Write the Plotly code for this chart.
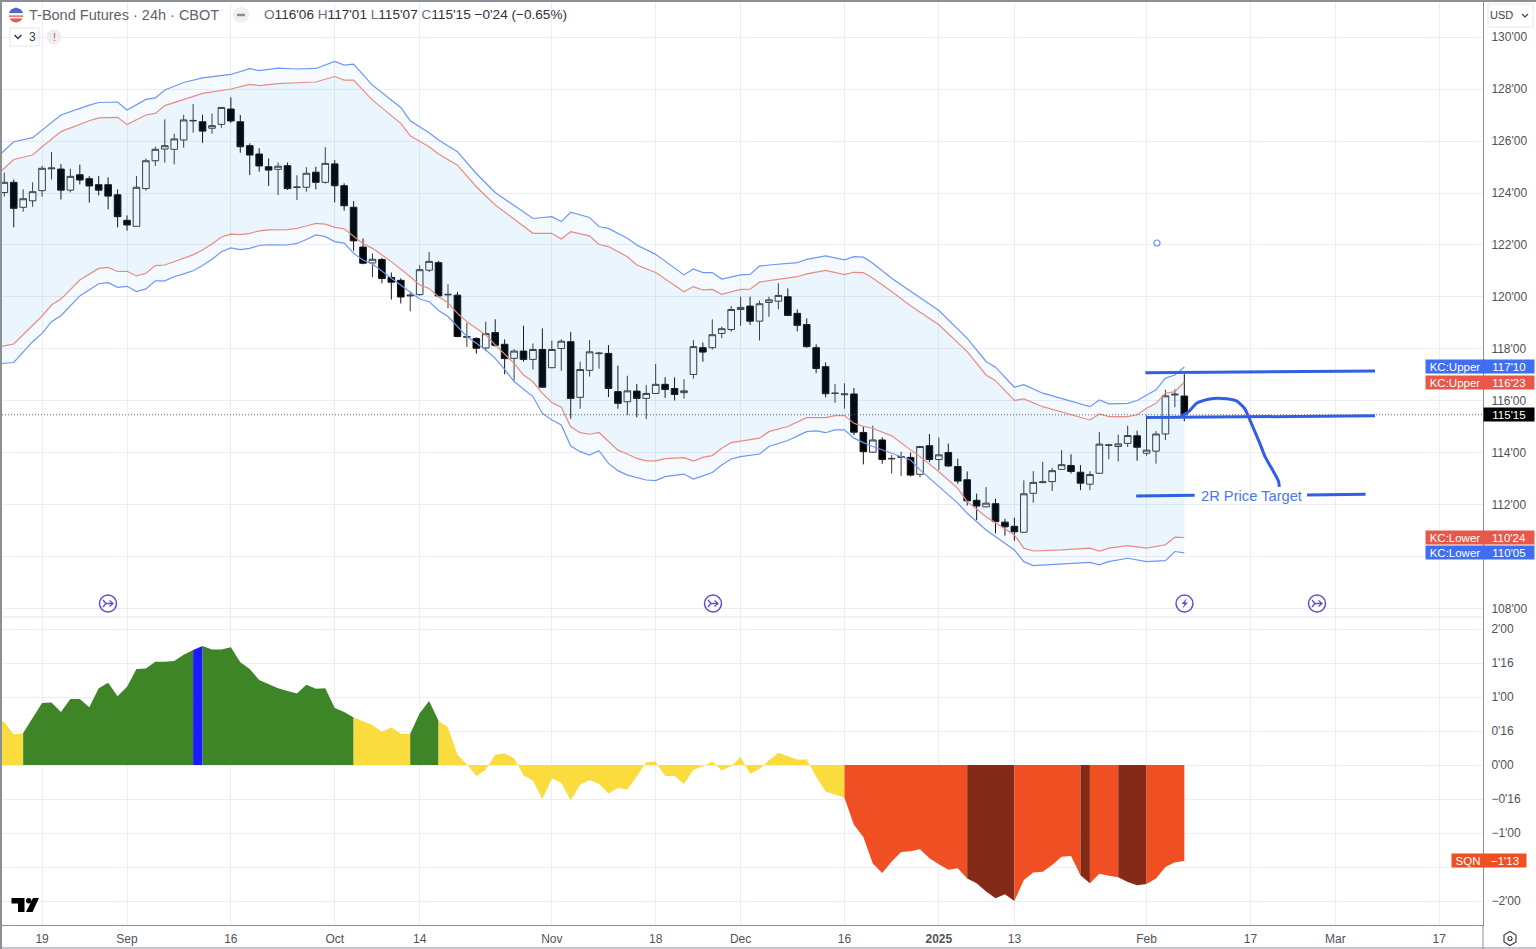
import plotly.graph_objects as go

# ---------- price data (one entry per daily bar) ----------
open_ = [124.02,124.41,123.45,123.70,124.09,124.93,124.92,124.11,124.70,124.55,
124.32,124.32,123.93,122.95,122.72,124.17,125.24,125.69,125.68,126.04,
126.77,126.74,126.49,126.64,127.23,126.74,125.82,125.50,125.01,124.91,
125.05,124.21,124.22,124.80,124.41,125.12,124.28,123.45,121.92,121.31,
121.44,120.75,120.64,120.04,120.09,121.03,121.32,120.08,120.07,118.45,
118.40,118.04,118.63,118.18,117.64,117.92,117.60,117.98,117.28,118.02,
118.28,116.14,117.18,117.82,117.83,116.36,115.97,116.38,116.10,116.29,
116.64,116.48,116.32,117.02,118.05,118.05,118.60,118.75,119.52,119.65,
119.07,119.79,119.84,120.01,119.37,118.94,118.05,117.32,116.29,116.24,
116.27,114.79,114.03,114.50,113.77,113.83,113.83,113.18,114.28,113.75,
114.02,113.48,112.97,112.18,111.93,112.05,111.34,111.18,110.95,112.45,
112.86,112.90,113.37,113.52,113.26,112.80,113.22,114.29,114.25,114.37,
114.66,113.99,114.07,114.73,116.23,116.19]
high = [124.78,124.52,124.14,124.41,125.04,125.58,125.11,124.93,125.09,124.65,
124.65,124.60,124.14,123.14,124.65,125.33,125.78,126.83,126.28,127.01,
127.42,127.01,127.06,127.29,127.68,127.00,125.91,125.72,125.33,125.18,
125.17,124.68,124.99,125.01,125.76,125.27,124.37,123.69,122.25,121.68,
121.51,120.94,120.72,120.18,121.22,121.73,121.39,120.49,120.19,119.00,
118.45,119.05,119.14,118.37,117.99,118.89,118.21,118.79,118.32,118.37,
118.66,117.51,118.34,117.89,118.15,117.36,116.97,116.65,116.61,117.42,
116.91,116.91,116.84,118.34,118.25,119.14,118.86,119.65,120.01,120.01,
119.86,120.01,120.53,120.33,119.52,119.18,118.18,117.48,116.65,116.68,
116.50,115.01,115.05,114.60,113.92,114.05,114.02,114.27,114.73,114.60,
114.36,113.78,113.29,112.44,112.69,112.24,111.47,111.51,112.95,113.30,
113.66,113.43,114.11,113.95,113.53,113.30,114.81,114.35,114.71,115.05,
114.86,115.45,114.84,116.43,116.45,117.03]
low = [123.86,122.68,123.28,123.47,123.86,124.52,123.75,124.02,124.33,123.63,
123.91,123.37,122.68,122.55,122.72,124.09,125.04,125.17,125.10,125.74,
126.32,125.93,126.28,126.51,126.70,125.55,124.69,124.82,124.27,123.92,
124.12,123.73,124.05,124.14,124.36,123.64,123.32,121.78,121.26,120.76,
120.53,119.90,119.75,119.45,120.05,120.96,119.99,119.57,118.45,118.08,
117.82,117.92,118.09,117.03,116.78,117.51,117.21,116.52,117.27,117.16,
115.32,115.70,116.94,117.24,116.15,115.70,115.46,115.37,115.30,116.27,
116.12,116.02,116.09,116.86,117.51,117.98,118.42,118.66,118.89,118.93,
118.33,119.24,119.53,119.27,118.68,118.05,117.07,116.14,115.93,115.70,
114.69,113.56,114.01,113.59,113.21,113.11,113.10,113.07,113.65,113.34,
113.47,112.82,111.98,111.42,111.91,110.91,110.82,110.62,110.94,112.09,
112.84,112.54,113.35,113.21,112.57,112.57,113.21,113.76,113.67,114.23,
113.70,113.89,113.59,114.50,115.76,115.22]
close = [124.41,123.41,123.78,124.05,124.95,124.96,124.11,124.64,124.50,124.27,
124.11,123.88,123.09,122.77,124.22,125.24,125.68,125.82,126.08,126.81,
126.79,126.38,126.59,127.29,126.77,125.78,125.46,125.04,124.88,125.03,
124.17,124.23,124.76,124.41,125.14,124.28,123.51,122.16,121.30,121.45,
120.71,120.57,120.00,120.07,121.05,121.37,120.04,120.10,118.48,118.48,
118.03,118.59,118.14,117.63,117.92,117.60,117.98,116.53,117.98,118.30,
116.10,117.21,117.89,117.84,116.48,115.91,116.39,116.10,116.29,116.64,
116.44,116.25,116.39,118.09,117.88,118.55,118.78,119.52,119.60,119.07,
119.74,119.89,120.06,119.29,118.91,118.09,117.25,116.28,116.30,116.27,
114.80,114.05,114.50,113.75,113.79,113.86,113.15,114.25,113.75,113.93,
113.50,112.92,112.16,111.96,112.07,111.36,111.16,110.97,112.43,112.87,
112.89,113.32,113.55,113.29,112.84,113.17,114.34,114.31,114.35,114.67,
114.22,114.11,114.73,116.20,116.26,115.47]
bars = list(range(len(close)))

# ---------- Keltner channel readings (bar number, price) ----------
upper_bars = [-1,0,1,3,4,6,9,10,12,13,15,16,17,19,21,24,26,27,29,31,33,35,36,37,39,42,43,45,46,48,50,52,
              56,58,59,60,62,63,64,66,67,69,72,73,74,75,76,78,79,80,81,84,85,87,89,90,91,92,94,96,99,
              102,104,105,107,108,110,115,116,117,119,120,121,122,123,124,125]
kc_upper_blue = [125.30,125.63,125.97,126.13,126.42,127.00,127.38,127.48,127.50,127.19,127.60,127.66,127.96,128.25,128.43,128.56,
                 128.78,128.71,128.80,128.77,128.79,129.06,128.92,128.96,128.15,127.29,126.78,126.32,126.04,125.59,124.75,124.02,
                 123.02,123.09,122.90,123.26,123.06,122.70,122.64,122.26,122.00,121.64,120.85,121.08,120.94,120.94,120.69,120.85,
                 120.87,121.19,121.23,121.32,121.45,121.58,121.43,121.55,121.53,121.30,120.72,120.21,119.48,118.41,117.52,117.30,
                 116.53,116.63,116.30,115.78,116.04,115.89,115.91,116.02,116.23,116.43,116.88,117.00,117.31]
kc_upper_red = [124.65,124.95,125.29,125.46,125.78,126.36,126.78,126.89,126.91,126.63,127.00,127.06,127.36,127.61,127.83,128.00,
                128.18,128.13,128.21,128.24,128.27,128.48,128.34,128.34,127.57,126.68,126.20,125.78,125.50,125.07,124.24,123.54,
                122.45,122.45,122.23,122.51,122.35,122.02,121.94,121.55,121.23,120.94,120.20,120.40,120.27,120.29,120.10,120.29,
                120.30,120.57,120.63,120.78,120.89,121.02,120.86,120.95,120.94,120.72,120.21,119.66,118.93,117.90,117.00,116.78,
                116.02,116.08,115.78,115.27,115.50,115.40,115.40,115.47,115.72,115.91,116.30,116.36,116.72]
lower_red_bars = [-1,0,1,3,4,5,6,8,9,10,11,12,13,14,15,16,17,18,19,20,21,22,23,24,25,26,27,28,30,31,32,33,34,35,36,37,38,39,41,43,44,45,46,47,48,49,51,52,53,
                  54,55,56,57,58,59,60,61,62,63,64,65,66,67,68,69,70,72,73,74,75,76,77,78,80,81,83,85,87,88,89,90,91,92,94,96,97,99,101,102,104,107,108,109,112,
                  115,116,117,119,121,123,124,125]
kc_lower_red = [118.09,118.12,118.19,118.92,119.27,119.69,119.92,120.65,120.89,121.10,121.14,120.98,120.99,120.81,120.91,121.21,121.23,121.37,121.49,121.62,121.81,
                122.04,122.31,122.42,122.40,122.45,122.54,122.58,122.59,122.64,122.73,122.83,122.80,122.68,122.62,122.32,122.05,121.87,121.36,120.78,120.46,120.33,120.01,119.78,119.37,119.05,118.54,118.16,117.81,
                117.45,117.00,116.74,116.29,115.94,115.76,115.01,114.78,114.72,114.79,114.44,114.11,113.96,113.79,113.70,113.70,113.78,113.82,113.69,113.83,113.90,114.18,114.40,114.45,114.57,114.82,115.02,115.36,115.36,115.44,115.44,115.14,115.02,114.95,114.66,114.12,113.86,113.28,112.64,112.13,111.55,110.85,110.34,110.23,110.27,
                110.34,110.23,110.34,110.44,110.34,110.47,110.76,110.75]
lower_blue_bars = [-1,0,1,3,4,5,6,8,9,10,11,12,13,14,15,16,17,18,19,20,21,22,23,24,25,26,27,28,30,31,32,33,34,35,36,37,38,39,41,43,44,45,46,47,48,49,51,52,53,
                   54,56,57,58,59,60,61,62,63,64,65,66,68,69,70,72,73,74,75,76,77,78,80,81,83,85,86,87,88,89,90,91,92,94,96,97,99,101,102,104,107,108,109,112,
                   115,116,117,119,121,123,124,125]
kc_lower_blue = [117.42,117.44,117.48,118.28,118.60,119.05,119.28,120.04,120.27,120.51,120.55,120.37,120.41,120.21,120.31,120.62,120.62,120.78,120.89,121.01,121.21,
                 121.45,121.74,121.89,121.82,121.87,121.98,122.01,122.00,122.06,122.21,122.39,122.32,122.13,122.07,121.68,121.42,121.27,120.72,120.21,119.92,119.82,119.48,119.25,118.86,118.48,117.96,117.64,117.22,
                 116.75,116.17,115.52,115.27,115.08,114.27,114.05,113.92,114.09,113.60,113.32,113.15,112.96,112.94,113.09,113.19,113.00,113.12,113.25,113.54,113.77,113.86,113.96,114.25,114.48,114.82,114.85,114.78,114.89,114.89,114.57,114.40,114.25,113.99,113.73,113.35,112.71,112.07,111.68,111.04,110.27,109.82,109.67,109.73,
                 109.79,109.70,109.82,109.95,109.82,109.86,110.21,110.16]

# ---------- squeeze-momentum pane ----------
sqn_before = 0.72
sqn = [0.63,0.45,0.47,0.69,0.91,0.92,0.78,0.97,0.97,0.85,1.13,1.21,1.01,1.15,1.41,1.42,1.52,1.52,1.53,1.62,
       1.69,1.75,1.70,1.70,1.73,1.51,1.41,1.25,1.19,1.13,1.09,1.05,1.18,1.12,1.13,0.84,0.78,0.70,0.64,0.59,
       0.49,0.55,0.46,0.46,0.76,0.94,0.65,0.55,0.15,0.01,-0.16,-0.07,0.15,0.17,0.10,-0.15,-0.23,-0.50,-0.20,-0.26,
       -0.52,-0.29,-0.22,-0.28,-0.42,-0.34,-0.36,-0.17,0.04,0.05,-0.16,-0.16,-0.28,-0.07,-0.02,0.05,-0.08,-0.02,0.12,-0.13,
       -0.06,0.07,0.18,0.13,0.08,0.08,-0.17,-0.39,-0.43,-0.48,-0.88,-1.06,-1.45,-1.59,-1.42,-1.28,-1.27,-1.24,-1.37,-1.46,
       -1.54,-1.52,-1.67,-1.74,-1.86,-1.96,-1.90,-2.00,-1.69,-1.58,-1.57,-1.47,-1.35,-1.34,-1.62,-1.74,-1.60,-1.63,-1.65,-1.72,
       -1.77,-1.75,-1.67,-1.50,-1.43,-1.41]
seg_start = [0,2,20,21,37,43,46,89,102,107,114,115,118,121]
seg_end = [2,20,21,37,43,46,89,102,107,114,115,118,121,125]
seg_kind = ["y","g","b","g","y","g","y","o","d","o","d","o","d","o"]

# ---------- hand drawn plan ----------
target_top_x, target_top_y = [120.87,145.2], [117.09,117.15]
target_mid_x, target_mid_y = [121.05,145.2], [115.36,115.43]
target_left_x, target_left_y = [119.9,126.1], [112.35,112.37]
target_right_x, target_right_y = [138.0,144.2], [112.38,112.41]
path_x = [124.6,125.47,126.30,127.56,129.01,130.47,131.37,132.10,133.0,133.55,134.45,134.99,135.06]
path_y = [115.40,115.59,115.91,116.07,116.10,116.01,115.72,115.14,114.37,113.86,113.28,112.90,112.70]

# ---------- axes labels ----------
x_ticks = [4,13,24,35,44,58,69,78,89,99,107,121,132,141,152]
x_labels = ["19","Sep","16","Oct","14","Nov","18","Dec","16","<b>2025</b>","13","Feb","17","Mar","17"]
price_ticks = [130,128,126,124,122,120,118,116,114,112,110,108]
price_labels = ["130'00","128'00","126'00","124'00","122'00","120'00","118'00","116'00","114'00","112'00","","108'00"]
sqn_ticks = [2,1.5,1,0.5,0,-0.5,-1,-1.5,-2]
sqn_labels = ["2'00","1'16","1'00","0'16","0'00","−0'16","−1'00","","−2'00"]

W, H = 1536, 949
ML, MR, MT, MB = 2, 53, 1, 24
FONT = "Liberation Sans, Arial, sans-serif"
BLUE, RED = "#6f96f5", "#ea8a83"
DRAW = "#2f5fe3"
GRID = "#ebeff5"
GREY = "#4f5359"

def px(x): return (x - ML) / (W - ML - MR)
def py(y): return (H - MB - y) / (H - MT - MB)

xr = [-0.244, 156.64]

fig = go.Figure()
fig.add_trace(go.Scatter(x=upper_bars + lower_blue_bars[::-1], y=kc_upper_blue + kc_lower_blue[::-1],
                         fill="toself", mode="none", fillcolor="rgba(33,130,243,0.045)", hoverinfo="skip"))
fig.add_trace(go.Scatter(x=upper_bars + lower_red_bars[::-1], y=kc_upper_red + kc_lower_red[::-1],
                         fill="toself", mode="none", fillcolor="rgba(33,150,243,0.05)", hoverinfo="skip"))
for xs, ys, c in [(upper_bars, kc_upper_blue, BLUE), (upper_bars, kc_upper_red, RED),
                  (lower_red_bars, kc_lower_red, RED), (lower_blue_bars, kc_lower_blue, BLUE)]:
    fig.add_trace(go.Scatter(x=xs, y=ys, mode="lines", line=dict(color=c, width=1.2), hoverinfo="skip"))
fig.add_trace(go.Scatter(x=xr, y=[close[-1], close[-1]], mode="lines",
                         line=dict(color="#666666", width=1, dash="1px,2px"), hoverinfo="skip"))
fig.add_trace(go.Candlestick(x=bars, open=open_, high=high, low=low, close=close,
                             increasing=dict(fillcolor="#ffffff", line=dict(color="#3a3a3a", width=1)),
                             decreasing=dict(fillcolor="#000000", line=dict(color="#111111", width=1)),
                             hoverinfo="skip"))
for xs, ys in [(target_top_x, target_top_y), (target_mid_x, target_mid_y),
               (target_left_x, target_left_y), (target_right_x, target_right_y)]:
    fig.add_trace(go.Scatter(x=xs, y=ys, mode="lines", line=dict(color=DRAW, width=3), hoverinfo="skip"))
fig.add_trace(go.Scatter(x=path_x, y=path_y, mode="lines",
                         line=dict(color=DRAW, width=3, shape="spline", smoothing=0.6), hoverinfo="skip"))

kind_color = {"y": "#fbdc3f", "g": "#3d8527", "b": "#1a1aff", "o": "#f04f23", "d": "#842a18"}
for a, b, k in zip(seg_start, seg_end, seg_kind):
    xs = bars[a:b + 1]
    ys = sqn[a:b + 1]
    if a == 0:
        xs = [-1] + xs
        ys = [sqn_before] + ys
    fig.add_trace(go.Scatter(x=xs, y=ys, mode="lines", line=dict(width=0, color=kind_color[k]),
                             fill="tozeroy", fillcolor=kind_color[k], xaxis="x2", yaxis="y2", hoverinfo="skip"))

tick_font = dict(family=FONT, size=12, color=GREY)
axis_common = dict(range=xr, tickmode="array", tickvals=x_ticks, showgrid=True, gridcolor=GRID, gridwidth=1,
                   zeroline=False, fixedrange=True)
fig.update_layout(
    width=W, height=H, autosize=False, showlegend=False, paper_bgcolor="white", plot_bgcolor="white",
    margin=dict(l=ML, r=MR, t=MT, b=MB), hovermode=False, font=dict(family=FONT),
    boxgap=0.3, boxgroupgap=0,
    xaxis=dict(**axis_common, ticktext=x_labels, showticklabels=False, anchor="y", rangeslider=dict(visible=False)),
    xaxis2=dict(**axis_common, ticktext=x_labels, showticklabels=True, anchor="y2", tickfont=tick_font, ticks="",
                showline=True, linecolor="#8c8f94", linewidth=1, ticklabelstandoff=3),
    yaxis=dict(domain=[0.3333, 1], range=[107.69, 131.385], side="right", anchor="x", tickmode="array",
               tickvals=price_ticks, ticktext=price_labels, tickfont=tick_font, ticks="", ticklabelstandoff=5,
               showgrid=True, gridcolor=GRID, zeroline=False, showline=True, linecolor="#8c8f94", linewidth=1,
               fixedrange=True),
    yaxis2=dict(domain=[0, 0.3333], range=[-2.353, 2.176], side="right", anchor="x2", tickmode="array",
                tickvals=sqn_ticks, ticktext=sqn_labels, tickfont=tick_font, ticks="", ticklabelstandoff=5,
                showgrid=True, gridcolor=GRID, zeroline=False, showline=True, linecolor="#8c8f94", linewidth=1,
                fixedrange=True),
)

shapes, anns = [], []
def pshape(path, fill="rgba(0,0,0,0)", line=None, width=1):
    shapes.append(dict(type="path", path=path, xref="paper", yref="paper", fillcolor=fill,
                       line=dict(color=line or "rgba(0,0,0,0)", width=width if line else 0), layer="above"))
def P(*pts):
    return "M" + " L".join(f"{px(x):.5f},{py(y):.5f}" for x, y in pts)
def circle(cx, cy, r, fill="rgba(0,0,0,0)", line=None, width=1):
    shapes.append(dict(type="circle", xref="paper", yref="paper", x0=px(cx - r), x1=px(cx + r), y0=py(cy + r), y1=py(cy - r),
                       fillcolor=fill, line=dict(color=line or "rgba(0,0,0,0)", width=width if line else 0), layer="above"))
def text(x, y, t, size=12, color=GREY, anchor="left", **kw):
    anns.append(dict(text=t, xref="paper", yref="paper", x=px(x), y=py(y), xanchor=anchor, yanchor="middle",
                     showarrow=False, font=dict(family=FONT, size=size, color=color), **kw))
def badge(x0, w, value, yref, t, color, size=11.5):
    anns.append(dict(text=t, xref="paper", yref=yref, x=px(x0), y=value, xanchor="left", yanchor="middle", width=w, height=13,
                     showarrow=False, bgcolor=color, borderpad=0, align="center",
                     font=dict(family=FONT, size=size, color="#ffffff")))

# frame
pshape(P((0, 1), (1536, 1)), line="#8c8f94", width=2)
pshape(P((1, 0), (1, 949)), line="#8c8f94", width=2)
pshape(P((0, 948), (1536, 948)), line="#8c8f94", width=1)
pshape(P((1483, 925), (1483, 949)), line="#8c8f94", width=1)
pshape(P((2, 617), (1483, 617)), line="#e4e7ec", width=1)

# header
circle(16, 15, 7.5, fill="#f0f0f0")
pshape(P((8.8, 13), (23.2, 13), (21, 9.5), (16, 7.5), (11, 9.5)) + " Z", fill="#4a68c8")
pshape(P((9.5, 18.5), (22.5, 18.5), (20, 21.2), (16, 22.5), (12, 21.2)) + " Z", fill="#e8584f")
pshape(P((8.6, 15.4), (23.4, 15.4), (23.2, 16.8), (8.8, 16.8)) + " Z", fill="#e8584f")
text(27, 15, "T-Bond Futures · 24h · CBOT", size=14.5, color="#5f6368")
circle(241, 15, 8, fill="#eef0f3")
pshape(P((237, 15), (245, 15)), line="#8a8e94", width=2.5)
ohlc = ("<span style='color:#6d7178'>O</span>116'06 <span style='color:#6d7178'>H</span>117'01 "
        "<span style='color:#6d7178'>L</span>115'07 <span style='color:#6d7178'>C</span>115'15 −0'24 (−0.65%)")
text(262, 15, ohlc, size=13.6, color="#2e3238")
shapes.append(dict(type="rect", xref="paper", yref="paper", x0=px(10), x1=px(39), y0=py(46), y1=py(28),
                   line=dict(color="#e3e5e8", width=1), fillcolor="#ffffff", layer="above"))
pshape(P((14.5, 35), (18, 38.5), (21.5, 35)), line="#333333", width=1.4)
text(27, 37, "3", size=12, color="#3c4043")
circle(54, 37, 7.5, fill="#eceef0")
text(54, 37, "!", size=11, color="#e0524a", anchor="center")

# USD button and settings glyph
shapes.append(dict(type="rect", xref="paper", yref="paper", x0=px(1488), x1=px(1533), y0=py(27), y1=py(4),
                   line=dict(color="#e6e8eb", width=1), fillcolor="#ffffff", layer="above"))
text(1488, 15, "USD", size=11, color="#3c4043")
pshape(P((1522, 14), (1525, 17), (1528, 14)), line="#3c4043", width=1.2)
pshape(P((1510, 931.5), (1516, 935), (1516, 942), (1510, 945.5), (1504, 942), (1504, 935)) + " Z", line="#3c4043", width=1.2)
circle(1510, 938.5, 2, line="#3c4043", width=1.2)

# TradingView mark
pshape(P((11.5, 898), (24.5, 898), (24.5, 912), (18, 912), (18, 903.5), (11.5, 903.5)) + " Z", fill="#000000")
circle(28.7, 900.7, 2.7, fill="#000000")
pshape(P((33, 898), (39, 898), (32.5, 912), (26, 912)) + " Z", fill="#000000")

# event markers
for cx in [108, 713, 1317]:
    circle(cx, 603.5, 8.5, fill="#ffffff", line="#5a4fd8", width=1.5)
    pshape(P((cx - 5, 600), (cx - 2, 603.5), (cx + 5, 603.5)), line="#5a4fd8", width=1.3)
    pshape(P((cx - 5, 607), (cx - 2, 603.5)), line="#5a4fd8", width=1.3)
    pshape(P((cx + 1.5, 600.5), (cx + 5, 603.5), (cx + 1.5, 606.5)), line="#5a4fd8", width=1.3)
circle(1184.5, 603.5, 8.5, fill="#ffffff", line="#6a4fd0", width=1.5)
pshape(P((1187, 598), (1181.5, 604), (1184.5, 604), (1182, 609), (1188, 602.5), (1185, 602.5)) + " Z", fill="#5a4fd8")

# small hollow drawing anchor
circle(1157, 243, 3, line="#6f8fe8", width=1.2)

# plan label
anns.append(dict(text="2R Price Target", xref="x", yref="y", x=132.1, y=112.33, showarrow=False,
                 font=dict(family=FONT, size=14.7, color="#4a78e8")))

# axis badges
RB, BB = "#e8574a", "#3f6ff0"
badge(1425, 58, kc_upper_blue[-1], "y", "KC:Upper", BB)
badge(1483, 50, kc_upper_blue[-1], "y", "117'10", BB)
badge(1425, 58, kc_upper_red[-1], "y", "KC:Upper", RB)
badge(1483, 50, kc_upper_red[-1], "y", "116'23", RB)
badge(1483, 50, close[-1], "y", "115'15", "#000000")
badge(1425, 58, kc_lower_red[-1], "y", "KC:Lower", RB)
badge(1483, 50, kc_lower_red[-1], "y", "110'24", RB)
badge(1425, 58, kc_lower_blue[-1], "y", "KC:Lower", BB)
badge(1483, 50, kc_lower_blue[-1], "y", "110'05", BB)
badge(1451, 32, sqn[-1], "y2", "SQN", "#f04f23")
badge(1483, 42, sqn[-1], "y2", "−1'13", "#f04f23")

fig.update_layout(shapes=shapes, annotations=anns)
fig.write_html("out.html", config={"displayModeBar": False},
               post_script="document.body.style.margin='0';document.body.style.overflow='hidden';")
